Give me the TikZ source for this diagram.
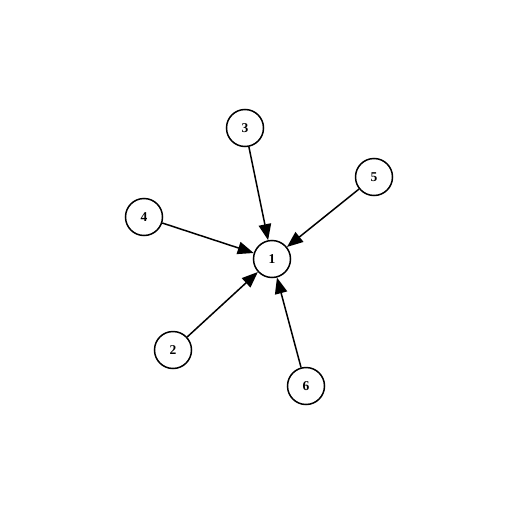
\documentclass[tikz,border=0pt]{standalone}
\usepackage{fontspec}
\setmainfont{Liberation Serif}
\usetikzlibrary{arrows.meta}
\tikzset {
  % graph vertex
  vertex/.style = {
    draw = black,
    circle,
    line width = 1.5pt,
    minimum size = 37pt,
    inner sep = 0,
    font = \fontsize{13.5}{15}\selectfont\bfseries
  },
  % directed edge
  edge/.style = {
    draw = black,
    line width = 1.5pt,
    -{Triangle[length=16pt,width=12.5pt]}
  }
}
\begin{document}
\begin{tikzpicture}[x=1pt,y=-1pt]
    \useasboundingbox (0,0) rectangle (506,506);
    \node[vertex] (v1) at (272,259) {1};
    \node[vertex] (v2) at (173,350) {2};
    \node[vertex] (v3) at (245,128) {3};
    \node[vertex] (v4) at (144,217) {4};
    \node[vertex] (v5) at (374,177) {5};
    \node[vertex] (v6) at (306,386) {6};

    \draw[edge] (v2) -- (v1);
    \draw[edge] (v3) -- (v1);
    \draw[edge] (v4) -- (v1);
    \draw[edge] (v5) -- (v1);
    \draw[edge] (v6) -- (v1);
  \end{tikzpicture}
\end{document}
